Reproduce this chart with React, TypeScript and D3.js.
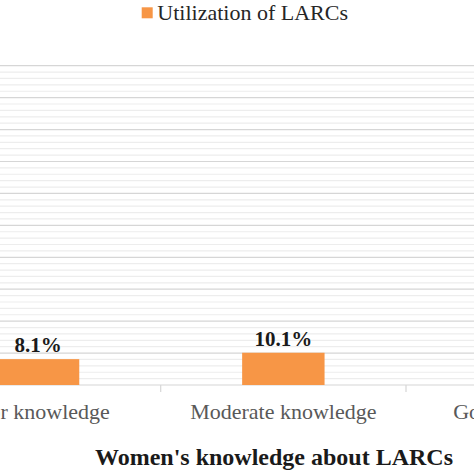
import React from "react";
import * as d3 from "d3";

const categories: string[] = ["Poor knowledge", "Moderate knowledge", "Good knowledge"];
const utilization: number[] = [8.1, 10.1, 25.0];
const seriesName = "Utilization of LARCs";
const axisTitle = "Women's knowledge about LARCs";
const yMax = 100;
const minorStep = 2;
const majorStep = 10;

const W = 474;
const H = 474;
const FONT = "'Liberation Serif', 'Times New Roman', serif";
const ORANGE = "#F79646";

export default function App() {
  const plotLeft = -84.6;
  const plotRight = 651.3;
  const plotTop = 65.7;
  const plotBottom = 385;

  const x = d3
    .scaleBand<string>()
    .domain(categories)
    .range([plotLeft, plotRight])
    .paddingInner(0.664)
    .paddingOuter(0.332);
  const y = d3.scaleLinear().domain([0, yMax]).range([plotBottom, plotTop]);

  const gridVals = d3.range(0, yMax + 0.001, minorStep);
  const step = x.step();
  const boundaries = categories.slice(1).map((c) => (x(c) as number) - (step - x.bandwidth()) / 2);

  return (
    <svg
      width={W}
      height={H}
      style={{ position: "absolute", left: 0, top: 0, background: "#fff" }}
      fontFamily={FONT}
    >
      <rect x={0} y={0} width={W} height={H} fill="#fff" />
      {gridVals.map((v) => {
        const major = Math.abs(v % majorStep) < 1e-6;
        return (
          <line
            key={v}
            x1={0}
            x2={W}
            y1={y(v)}
            y2={y(v)}
            stroke={major ? "#d6d6d6" : "#ededed"}
            strokeWidth={1.2}
          />
        );
      })}
      {boundaries.map((bx, i) => (
        <line key={i} x1={bx} x2={bx} y1={plotBottom} y2={plotBottom + 7} stroke="#d6d6d6" strokeWidth={1.2} />
      ))}
      {categories.map((c, i) => (
        <g key={c}>
          <rect
            x={x(c)}
            y={y(utilization[i])}
            width={x.bandwidth()}
            height={plotBottom - y(utilization[i])}
            fill={ORANGE}
          />
          <text
            x={(x(c) as number) + x.bandwidth() / 2}
            y={y(utilization[i]) - 7}
            textAnchor="middle"
            fontSize={21}
            fontWeight="bold"
            fill="#1a1a1a"
          >
            {utilization[i].toFixed(1)}%
          </text>
          <text
            x={(x(c) as number) + x.bandwidth() / 2}
            y={419}
            textAnchor="middle"
            fontSize={22}
            fill="#595959"
          >
            {c}
          </text>
        </g>
      ))}
      <text x={274} y={465} textAnchor="middle" fontSize={24} fontWeight="bold" fill="#1a1a1a">
        {axisTitle}
      </text>
      <rect x={141.7} y={7.3} width={11} height={11} fill={ORANGE} />
      <text x={157.3} y={19.5} fontSize={22} fill="#262626">
        {seriesName}
      </text>
    </svg>
  );
}
